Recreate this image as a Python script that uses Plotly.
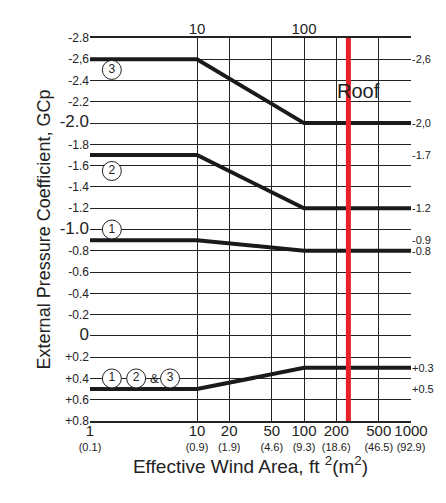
import math
import plotly.graph_objects as go

area = [1, 10, 100, 1000]
zone3 = [-2.6, -2.6, -2.0, -2.0]
zone2 = [-1.7, -1.7, -1.2, -1.2]
zone1 = [-0.9, -0.9, -0.8, -0.8]
positive = [0.5, 0.5, 0.3, 0.3]
roof_area = 260

xticks = [1, 10, 20, 50, 100, 200, 500, 1000]
xtop = ["1", "10", "20", "50", "100", "200", "500", "1000"]
xmetric = ["(0.1)", "(0.9)", "(1.9)", "(4.6)", "(9.3)", "(18.6)", "(46.5)", "(92.9)"]
yticks = [-2.8, -2.6, -2.4, -2.2, -2.0, -1.8, -1.6, -1.4, -1.2, -1.0, -0.8, -0.6, -0.4,
          -0.2, 0, 0.2, 0.4, 0.6, 0.8]
ylabels = ["-2.8", "-2,6", "-2.4", "-2.2", "<span style='font-size:17px'>-2.0</span>", "-1.8", "-1.6",
           "-1.4", "-1.2", "<span style='font-size:17px'>-1.0</span>", "-0.8", "-0.6", "-0.4", "-0.2",
           "<span style='font-size:17px'>0</span>", "+0.2", "+0.4", "+0.6", "+0.8"]
rticks = [-2.6, -2.0, -1.7, -1.2, -0.9, -0.8, 0.3, 0.5]
rlabels = ["-2,6", "-2,0", "-1.7", "-1.2", "-0.9", "-0.8", "+0.3", "+0.5"]
circ_x = [1.6, 1.6, 1.6, 1.6, 2.7, 5.6]
circ_y = [-2.5, -1.55, -1.0, 0.4, 0.4, 0.4]
circ_t = ["3", "2", "1", "1", "2", "3"]

xlabels = [f"<span style='font-size:15px'>{a}</span><br>{b}" for a, b in zip(xtop, xmetric)]

fig = go.Figure()
for ys in [zone3, zone2, zone1, positive]:
    fig.add_trace(go.Scatter(x=area, y=ys, mode="lines", line=dict(color="#1a1a1a", width=4),
                             showlegend=False))
fig.add_trace(go.Scatter(x=[roof_area, roof_area], y=[-2.8, 0.8], mode="lines",
                         line=dict(color="#e8202a", width=5), showlegend=False))
fig.add_trace(go.Scatter(x=circ_x, y=circ_y, mode="markers+text", text=circ_t,
                         textposition="middle center",
                         marker=dict(symbol="circle", size=19, color="white",
                                     line=dict(color="#222", width=1)),
                         textfont=dict(size=12, color="#222"), showlegend=False))
fig.add_trace(go.Scatter(x=[10, 100], y=[None, None], xaxis="x2", yaxis="y2", showlegend=False))

font = dict(family="Liberation Sans, Arial", size=12, color="#222")
fig.update_layout(
    width=446, height=503, margin=dict(l=82, r=43, t=28, b=90),
    paper_bgcolor="white", plot_bgcolor="white", font=font,
    xaxis=dict(type="log", range=[0, 3], tickvals=xticks, ticktext=xlabels, tickangle=0,
               showgrid=True, gridcolor="#222", gridwidth=1, showline=True, linecolor="#222",
               linewidth=2, mirror=True, ticks="", tickfont=dict(size=11),
               title=dict(text="Effective Wind Area, ft <sup>2</sup>(m<sup>2</sup>)",
                          font=dict(size=19), standoff=8)),
    xaxis2=dict(type="log", range=[0, 3], overlaying="x", side="top", tickvals=[10, 100],
                ticktext=["10", "100"], showgrid=False, tickfont=dict(size=15), ticks=""),
    yaxis=dict(range=[0.8, -2.8], tickvals=yticks, ticktext=ylabels, showgrid=True,
               gridcolor="#222", gridwidth=1, zeroline=False, ticks="",
               title=dict(text="External Pressure Coefficient, GCp", font=dict(size=18), standoff=4)),
    yaxis2=dict(range=[0.8, -2.8], overlaying="y", side="right", tickvals=rticks,
                ticktext=rlabels, showgrid=False, zeroline=False, ticks="", tickfont=dict(size=11)),
)
fig.add_annotation(x=math.log10(4.0), y=0.4, xref="x", yref="y", text="&", showarrow=False,
                   font=dict(size=13, color="#222"))
fig.add_annotation(x=math.log10(320), y=-2.3, xref="x", yref="y", text="Roof", showarrow=False,
                   font=dict(size=20, color="#222"))
fig.write_html("out.html")
